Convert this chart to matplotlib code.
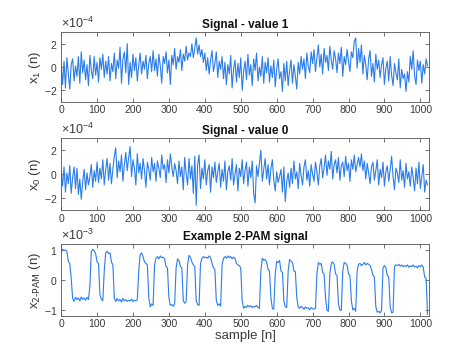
import numpy as np
import matplotlib
matplotlib.use("Agg")
import matplotlib.pyplot as plt
from matplotlib.ticker import ScalarFormatter

# sample index (every 4th sample of the 1024-sample frames)
n = np.arange(0, 1024, 4)

# x_1(n), units of 1e-4
x1 = [0.3, -1.5, 0.5, -1.8, 0.8, -0.6, -1.9, 0.2, 0.7, -1.2, 0.1, -0.8, 0.9, -1.4, 1.3, -0.5,
      0.6, -1.1, 0.2, -1.6, 1.0, -0.3, -1.0, 0.9, -0.7, 0.4, -1.3, 0.8, -0.2, 1.1, -0.9, 0.5,
      -0.6, 0.9, -1.2, 0.3, -0.4, 1.2, -1.0, 0.6, -0.1, 1.7, -1.4, 0.7, 1.3, -0.5, 2.0, -1.5,
      0.4, -0.9, 1.1, -0.3, 0.8, -1.2, 0.2, 1.2, -0.6, 0.5, -0.2, 1.0, -1.0, 0.3, 0.9, -0.4,
      1.4, -0.3, 0.7, -0.8, 1.1, 0.1, -1.4, 0.9, 0.3, 1.3, -0.5, 0.6, -1.5, 1.0, 0.2, 1.6,
      -0.2, 0.9, 0.4, 1.5, -0.3, 1.1, 0.5, 1.8, 0.6, 1.2, 0.9, 2.0, 0.8, 1.6, 2.5, 1.1,
      1.9, 0.9, 1.5, 0.4, 1.2, -0.3, 0.8, -0.6, 0.6, 1.4, -0.4, 0.3, 1.3, -0.9, 0.5, -0.2,
      0.9, -1.0, 0.4, -1.5, 0.2, -0.6, 1.0, -1.8, -0.2, 0.6, -1.3, 0.3, -0.9, 0.8, -2.0, -0.4,
      0.5, -1.1, 1.1, -0.7, 0.2, -1.6, 0.7, -0.3, 1.2, -1.2, 0.0, -0.8, 0.9, -1.4, 0.4, -0.5,
      0.8, -1.3, 0.1, -0.9, 0.6, -1.7, -0.2, 0.7, -1.0, -0.4, -2.1, 0.3, -1.2, 0.5, -1.6, -0.3,
      0.6, -1.4, 0.2, -0.8, -1.9, 0.4, -0.6, 0.9, -0.2, 0.7, -1.0, 1.2, 0.1, -0.5, 1.3, 0.3,
      1.5, -0.4, 0.8, 1.9, 0.0, 1.1, -0.6, 1.6, 0.4, 1.0, -0.3, 1.8, 0.6, -0.2, 1.4, 0.7,
      -0.5, 1.2, 0.3, 1.7, -0.8, 0.9, 0.2, 1.5, 0.5, -0.4, 1.3, 0.8, 2.2, 2.5, -0.1, 1.6,
      0.4, 1.9, -0.6, 1.0, 0.2, -1.1, 0.7, 1.4, -0.8, 0.3, -1.3, 1.1, -0.2, 0.6, -0.9, 0.2,
      0.8, -1.5, -0.1, 0.5, -1.2, 0.9, -0.7, -1.6, 0.3, -0.5, -1.1, 0.7, -1.8, -0.2, -1.0, -0.6,
      -2.1, -0.4, -1.3, 0.9, -0.2, 1.4, -0.8, -1.5, 0.6, -0.3, 0.5, -1.4, 0.2, -0.6, 0.7, 0.1]

# x_0(n), units of 1e-4
x0 = [0.3, -1.0, 0.6, -1.5, 0.1, -0.8, 0.7, -1.6, -0.3, 0.6, -1.2, 0.5, -1.7, -0.4, -2.1, -0.6,
      0.4, -1.3, 0.1, -0.9, -0.2, 0.8, -1.1, 0.3, -0.6, 1.0, -0.7, 0.5, -0.4, 1.2, -0.9, 0.4,
      1.3, -0.5, 0.9, -0.8, 0.4, 1.5, 2.2, -0.3, 1.1, 0.2, 1.6, -0.6, 0.8, 1.8, 0.3, 1.4,
      2.3, -0.2, 1.2, 0.5, -0.9, 1.7, 0.1, 0.9, -0.4, 1.3, 0.3, -1.1, 1.0, 0.4, -0.5, 1.4,
      0.2, 0.9, -0.6, 1.1, 0.5, -0.3, 1.6, 0.4, 0.8, -0.7, 1.2, 0.1, 1.7, 0.6, -0.2, 0.9,
      0.3, -0.8, 1.1, -0.2, 0.6, -1.3, 1.4, 0.0, -0.9, 1.3, -0.4, 0.7, -1.6, 1.5, -2.6, 0.8,
      1.6, -1.2, 0.5, -0.4, 1.2, -0.9, 0.3, 0.8, -1.5, 0.6, -0.3, 1.0, -0.7, 0.2, 0.9, -1.1,
      0.4, -0.6, 1.1, -1.3, 0.2, 0.7, -0.5, 1.3, -0.9, 0.0, 0.8, -1.4, 0.5, -0.2, 1.2, -0.8,
      0.3, 1.0, -1.0, 0.6, -0.3, 1.1, -1.6, -2.4, 0.7, -0.2, 0.9, 2.0, -0.6, 0.4, 1.3, -0.4,
      0.8, -0.9, 0.5, 1.2, -0.5, -1.4, 0.2, -0.7, -0.2, 0.4, -1.5, 0.6, -2.3, -0.6, 0.1, -1.1,
      0.5, -0.8, 1.1, -0.4, 0.2, -1.2, 0.9, -0.1, -0.9, 0.6, 1.2, -0.5, 0.3, -1.0, 0.8, 0.0,
      -0.6, 1.0, 0.2, -0.9, 0.7, 1.3, -0.3, 0.5, 1.6, -0.1, 1.1, 0.4, 1.9, -0.4, 0.8, 1.2,
      0.1, 1.4, -0.5, 0.7, 1.0, -0.2, 1.5, 0.3, 0.9, -0.6, 1.2, 0.4, 1.6, 0.2, 0.8, 1.4,
      0.6, 1.7, 0.3, 1.1, -0.4, 0.9, 0.1, -0.8, 0.6, 1.0, -0.5, 0.3, 1.2, -0.9, 0.4, -0.3,
      1.0, -1.0, 0.2, 0.7, -0.6, 0.4, 1.5, -0.2, -1.3, 0.5, 0.1, -0.7, 1.2, -0.5, 0.3, -1.1,
      0.9, -0.4, 0.2, -1.0, 0.6, -0.3, -1.4, 0.5, -0.8, 1.0, -1.2, -0.2, 0.8, -1.5, -0.5, -0.9]

# x_2-PAM(n), units of 1e-3
x2pam = [0.92, 1.02, 0.98, 1.0, 0.95, 0.62, 0.55, 0.05, -0.62, -0.72, -0.58, -0.66, -0.6, -0.7, -0.57, -0.65,
         -0.6, -0.68, -0.58, -0.66, -0.2, 0.95, 1.02, 0.97, 0.88, 0.6, 0.55, -0.5, -0.65, -0.7, 0.3, 0.9,
         0.95, 0.88, 0.9, 0.6, 0.5, -0.6, -0.72, -0.62, -0.7, -0.65, -0.74, -0.62, -0.7, -0.66, -0.72, -0.68,
         -0.7, -0.64, -0.72, -0.68, -0.7, -0.66, 0.3, 0.85, 0.9, 0.78, 0.6, 0.55, 0.5, -0.6, -0.9, -0.8,
         -0.85, 0.5, 0.72, 0.78, 0.7, 0.8, 0.74, 0.76, 0.7, 0.45, 0.4, -0.6, -0.85, -0.82, -0.88, -0.8,
         0.4, 0.7, 0.65, 0.45, 0.4, -0.7, -0.78, -0.72, 0.5, 0.82, 0.75, 0.6, 0.5, 0.45, -0.7, -0.82,
         -0.85, 0.55, 0.72, 0.78, 0.74, 0.76, 0.72, 0.8, 0.75, 0.55, 0.4, 0.35, -0.7, -0.85, -0.8, -0.88,
         0.5, 0.72, 0.78, 0.72, 0.8, 0.74, 0.78, 0.7, 0.76, 0.72, 0.55, 0.5, 0.48, 0.4, -0.7, -0.95,
         -0.88, -0.92, -0.85, -0.9, -0.86, -0.93, -0.88, -0.9, -0.85, -0.92, -0.95, 0.3, 0.72, 0.65, 0.68, 0.6,
         0.35, 0.3, -0.6, -0.95, -0.98, 0.2, 0.62, 0.58, 0.65, 0.3, 0.25, -0.7, -0.9, -0.92, 0.3, 0.68,
         0.62, 0.58, 0.3, 0.28, -0.6, -0.9, -0.95, -0.88, -0.92, -0.98, -0.9, -0.95, -0.93, -1.0, -0.92, -0.96,
         -0.98, -0.95, 0.2, 0.58, 0.52, 0.55, 0.25, 0.2, -0.6, -1.0, -1.05, 0.2, 0.55, 0.6, 0.52, 0.2,
         0.15, -0.8, -1.0, -1.02, 0.3, 0.58, 0.55, 0.5, 0.2, 0.15, -0.7, -1.0, -0.95, -1.05, 0.3, 0.52,
         0.55, 0.48, 0.52, 0.58, 0.5, 0.55, 0.52, 0.48, 0.35, 0.15, 0.1, -0.9, -1.08, -1.05, -1.1, -1.02,
         0.4, 0.48, 0.4, 0.15, 0.1, -0.9, -1.1, -1.08, 0.45, 0.5, 0.48, 0.52, 0.46, 0.5, 0.44, 0.48,
         0.45, 0.5, 0.42, 0.47, 0.44, 0.5, 0.43, 0.46, 0.4, 0.48, 0.44, 0.5, 0.42, 0.1, 0.05, -1.15]

titles = ["Signal - value 1", "Signal - value 0", "Example 2-PAM signal"]
ylabels = [r"x$_1$ (n)", r"x$_0$ (n)", r"x$_{\text{2-PAM}}$ (n)"]

plt.rcParams["font.family"] = ["Liberation Sans", "DejaVu Sans"]
plt.rcParams["mathtext.default"] = "regular"
plt.rcParams["font.size"] = 7.5

line_color = "#2b7de9"
axis_color = "#3a3a3a"

fig = plt.figure(figsize=(4.74, 3.49), dpi=100)
boxes = [[0.129, 0.708, 0.776, 0.200],
         [0.129, 0.398, 0.776, 0.206],
         [0.129, 0.095, 0.776, 0.206]]

series = [np.array(x1) * 1e-4, np.array(x0) * 1e-4, np.array(x2pam) * 1e-3]
ylims = [(-3e-4, 3e-4), (-3e-4, 3e-4), (-1.2e-3, 1.2e-3)]
yticks = [[-2e-4, 0, 2e-4], [-2e-4, 0, 2e-4], [-1e-3, 0, 1e-3]]

for i in range(3):
    ax = fig.add_axes(boxes[i])
    ax.plot(n, series[i], color=line_color, linewidth=0.8)
    ax.set_xlim(0, 1024)
    ax.set_ylim(*ylims[i])
    ax.set_xticks(np.arange(0, 1001, 100))
    ax.set_yticks(yticks[i])
    fmt = ScalarFormatter(useMathText=True)
    fmt.set_powerlimits((0, 0))
    ax.yaxis.set_major_formatter(fmt)
    ax.yaxis.get_offset_text().set_fontsize(9)
    ax.yaxis.get_offset_text().set_color(axis_color)
    ax.tick_params(direction="in", top=True, right=True, length=3, width=0.5,
                   colors=axis_color, labelsize=7.5, pad=2.5)
    for s in ax.spines.values():
        s.set_color("#555555")
        s.set_linewidth(0.6)
    ax.set_title(titles[i], fontsize=8.5, fontweight="bold", pad=3, color="#111111")
    ax.set_ylabel(ylabels[i], fontsize=9.5, color=axis_color, labelpad=1)
    if i == 2:
        ax.set_xlabel("sample [n]", fontsize=9.5, color=axis_color, labelpad=0.5)

fig.savefig("out.png", dpi=100)
